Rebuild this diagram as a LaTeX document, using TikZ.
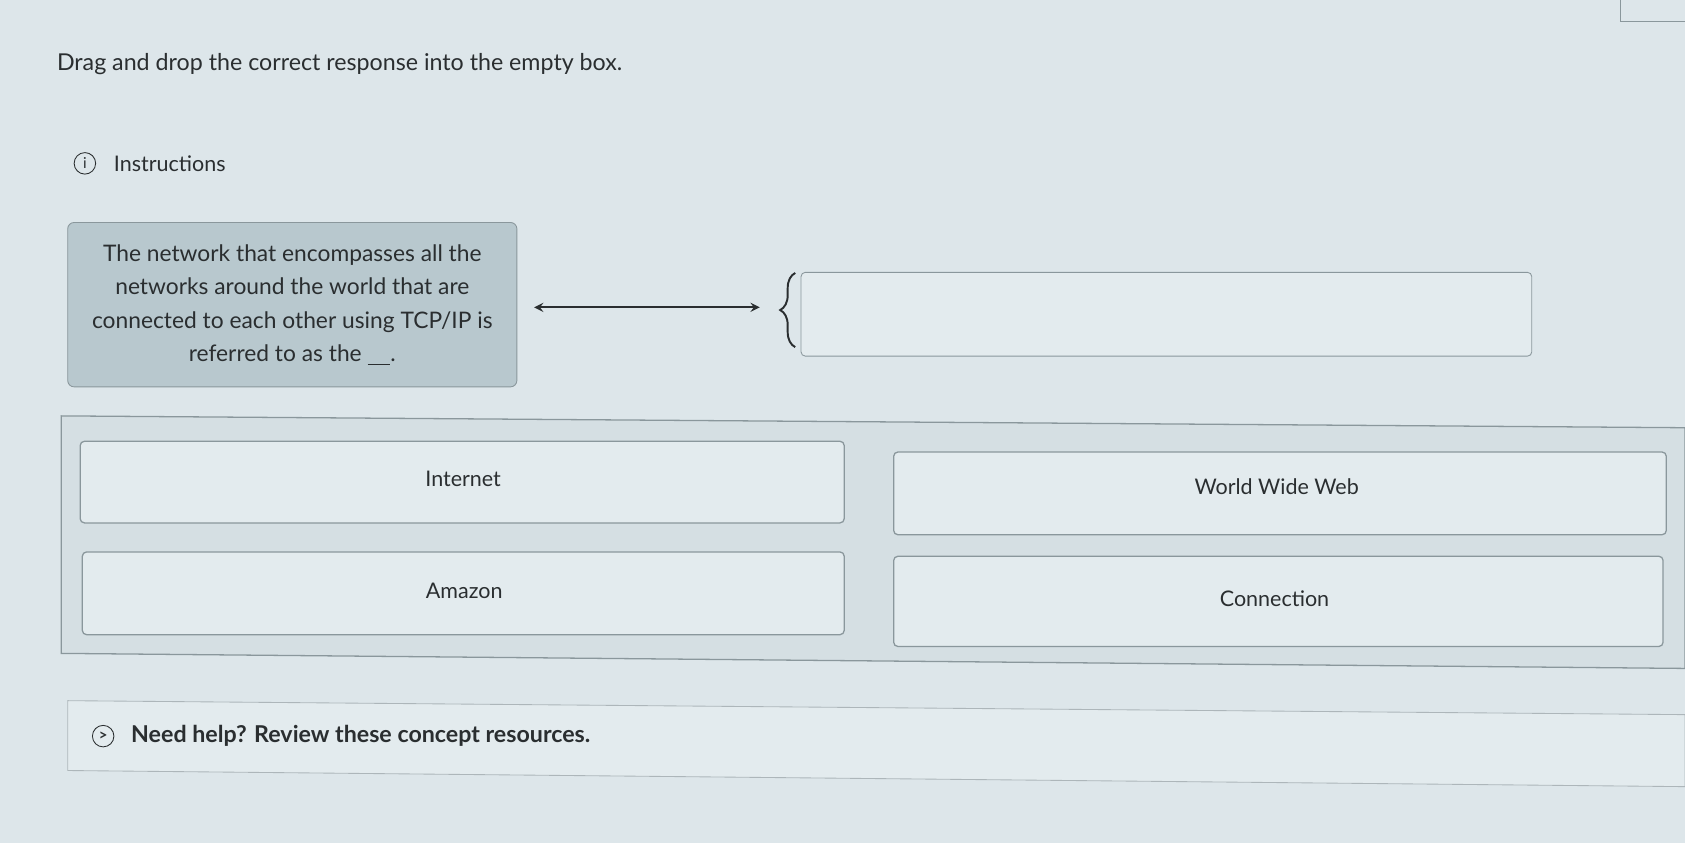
\documentclass[tikz,border=0pt]{standalone}
\usepackage{fontspec}
\setmainfont{Lato}
\usetikzlibrary{decorations.pathreplacing}
\definecolor{bg}{HTML}{DDE6EA}
\definecolor{qbox}{HTML}{B8C8CE}
\definecolor{panel}{HTML}{D5DFE3}
\definecolor{opt}{HTML}{E3EBEE}
\definecolor{edge}{HTML}{8A979C}
\definecolor{txt}{HTML}{2A2E30}
\tikzset{
  optbox/.style={draw=edge, fill=opt, rounded corners=2pt, line width=0.6pt},
  lbl/.style={text=txt, font=\fontsize{10}{12}\selectfont},
}
\begin{document}
\begin{tikzpicture}[x=0.5pt,y=-0.5pt]
\fill[bg] (0,0) rectangle (1568,784);
\useasboundingbox (0,0) rectangle (1568,784);
\draw[edge] (1508,-2) -- (1508,20) -- (1570,20);
\node[lbl, anchor=west, font=\fontsize{10.8}{12}\selectfont] (title) at (46,60) {Drag and drop the correct response into the empty box.};
\node[draw=txt, circle, inner sep=0pt, minimum size=10pt, font=\fontsize{7}{8}\selectfont, text=txt] (info) at (79,152) {i};
\node[lbl, anchor=west] (instr) at (99,152) {Instructions};
\draw[edge, fill=qbox, rounded corners=3pt] (63,207) rectangle (481,360);
\node[lbl, align=center, font=\fontsize{10.6}{15.5}\selectfont] (q) at (272,284) {The network that encompasses all the\\networks around the world that are\\connected to each other using TCP/IP is\\referred to as the \underline{\hspace{1em}}.};
\coordinate (al) at (497,286);
\coordinate (ar) at (707,286);
\draw[txt, line width=0.9pt, <->, >=stealth] (al) -- (ar);
\draw[txt, line width=0.9pt, decorate, decoration={brace, amplitude=7pt}] (740,323) -- (740,254);
\node[draw=edge, fill=opt, rounded corners=2pt, minimum width=340pt, minimum height=39pt, anchor=north west] (empty) at (745,253) {};
\draw[edge, fill=panel, line width=0.6pt] (57,387) -- (1568,398) -- (1568,622) -- (57,608) -- cycle;
\node[optbox, minimum width=355.5pt, minimum height=38pt, anchor=north west] (internet) at (74,410) {};
\node[lbl] at (431,446) {Internet};
\node[optbox, minimum width=359.5pt, minimum height=38.5pt, anchor=north west] (www) at (831,420) {};
\node[lbl] at (1188,453) {World Wide Web};
\node[optbox, minimum width=354.5pt, minimum height=38.5pt, anchor=north west] (amazon) at (76,513) {};
\node[lbl] at (432,550) {Amazon};
\node[optbox, minimum width=358pt, minimum height=42pt, anchor=north west] (conn) at (831,517) {};
\node[lbl] at (1186,557) {Connection};
\draw[edge!70, fill=opt] (63,652) -- (1568,665) -- (1568,732) -- (63,717) -- cycle;
\node[draw=txt, circle, inner sep=0pt, minimum size=10pt, font=\fontsize{7}{8}\selectfont\bfseries, text=txt] (help) at (96,685) {>};
\node[lbl, anchor=west, font=\fontsize{10.8}{12}\selectfont\bfseries] (helpt) at (115,685) {Need help? Review these concept resources.};
\end{tikzpicture}
\end{document}
